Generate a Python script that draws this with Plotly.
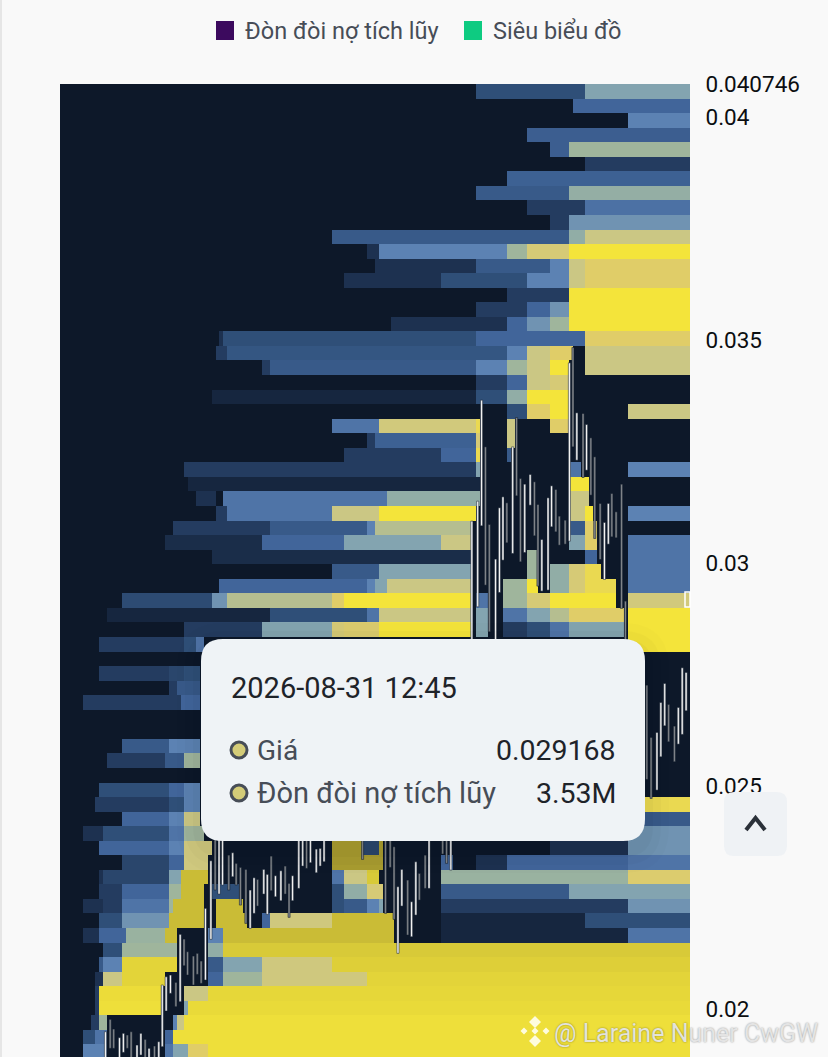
import plotly.graph_objs as go

WIDTH = 828
HEIGHT = 1057
N_BARS = 162

### Data
# Heatmap rows from the top of the chart down: (end bar, level) runs.
# Levels 0-10 run dark to bright yellow, 10-12 are the duller yellows of the low price zone
heat_rows = [
    [(107, 0), (135, 3), (162, 6)],
    [(132, 0), (162, 4)],
    [(146, 0), (162, 5)],
    [(120, 0), (162, 3.7)],
    [(126, 0), (131, 3.7), (162, 7)],
    [(135, 0), (162, 2)],
    [(115, 0), (162, 3.8)],
    [(107, 0), (131, 3.5), (162, 6.6)],
    [(120, 0), (135, 2), (162, 4.4)],
    [(126, 0), (131, 2), (162, 5.5)],
    [(70, 0), (131, 3.5), (135, 6.5), (162, 8)],
    [(79, 0), (82, 1.5), (115, 5), (120, 7), (131, 8.5), (162, 10)],
    [(81, 0), (107, 1.5), (126, 3.5), (131, 5), (135, 8), (162, 9)],
    [(73, 0), (98, 1.5), (120, 3), (131, 5), (135, 8), (162, 9)],
    [(115, 0), (131, 2), (162, 10)],
    [(107, 0), (120, 2), (126, 4), (131, 5.5), (162, 10)],
    [(85, 0), (115, 1.5), (120, 4), (126, 5.5), (131, 7), (162, 10)],
    [(41, 0), (42, 1.5), (107, 3), (135, 4), (162, 9)],
    [(40, 0), (43, 2), (115, 3.3), (120, 5), (126, 8), (132, 9), (135, 0), (162, 8)],
    [(52, 0), (54, 2), (107, 3.5), (115, 5), (120, 7), (126, 8), (131, 10), (135, 0), (162, 8)],
    [(107, 0), (115, 2), (120, 4), (126, 8), (131, 8.5), (162, 0)],
    [(39, 0), (107, 1), (115, 3), (120, 6.5), (131, 10), (162, 0)],
    [(115, 0), (120, 3), (126, 9), (131, 10), (146, 0), (162, 8)],
    [(70, 0), (82, 4.5), (107, 8.3), (108, 9.5), (115, 0), (117, 8), (126, 0), (131, 9), (162, 0)],
    [(79, 0), (81, 2), (107, 3.8), (108, 8.5), (115, 0), (117, 8), (162, 0)],
    [(73, 0), (98, 2), (107, 4), (108, 9.5), (115, 0), (116, 3.5), (162, 0)],
    [(32, 0), (107, 2), (108, 6), (131, 0), (134, 4.5), (146, 0), (162, 5)],
    [(33, 0), (108, 1), (131, 0), (136, 10), (162, 0)],
    [(35, 0), (40, 1.5), (42, 0), (84, 4.5), (108, 6.5), (131, 0), (136, 8), (162, 0)],
    [(40, 0), (43, 2), (70, 4.5), (82, 8), (107, 10), (131, 0), (135, 8), (137, 10), (146, 0), (162, 5)],
    [(29, 0), (54, 2), (79, 3.5), (81, 5), (106, 7.5), (131, 0), (135, 3.5), (138, 9), (162, 0)],
    [(27, 0), (52, 1.3), (73, 4), (98, 6), (106, 8), (131, 0), (135, 6), (138, 9), (146, 0), (162, 4.5)],
    [(39, 0), (106, 1.3), (120, 0), (123, 7), (135, 0), (138, 4), (146, 0), (162, 4.5)],
    [(70, 0), (82, 3.5), (106, 6), (120, 0), (123, 7), (126, 0), (131, 6.5), (135, 8.5), (139, 9.5), (146, 0), (162, 4.5)],
    [(41, 0), (79, 4), (81, 5), (84, 6), (106, 8), (114, 0), (120, 7), (123, 10), (126, 0), (131, 6.5), (135, 8.5), (143, 9.5), (146, 0), (162, 4.5)],
    [(16, 0), (39, 2.8), (43, 5.5), (70, 7.5), (73, 9), (106, 10), (107, 0), (110, 4.5), (114, 0), (120, 7), (126, 8.5), (143, 10), (146, 0), (162, 8.3)],
    [(12, 0), (54, 1), (79, 3), (82, 4.5), (106, 8), (107, 0), (110, 6), (114, 0), (120, 4.5), (126, 6), (131, 7.5), (145, 9), (146, 0), (162, 10)],
    [(32, 0), (52, 2), (70, 6), (73, 8.5), (82, 8.8), (106, 10), (107, 0), (110, 6), (114, 0), (120, 2), (126, 3), (131, 4.5), (145, 6), (146, 0), (162, 10)],
    [(10, 0), (32, 2), (35, 3), (37, 4.5), (146, 0), (162, 10)],
    [(162, 0)],
    [(10, 0), (28, 2), (32, 2.5), (36, 3), (162, 0)],
    [(28, 0), (30, 2), (36, 3.5), (162, 0)],
    [(6, 0), (31, 2), (36, 4), (162, 0)],
    [(162, 0)],
    [(162, 0)],
    [(16, 0), (28, 3.5), (36, 5), (162, 0)],
    [(12, 0), (27, 2), (32, 3.5), (36, 7), (162, 0)],
    [(162, 0)],
    [(10, 0), (28, 3), (32, 4), (36, 5), (162, 0)],
    [(9, 0), (28, 2), (32, 3), (36, 5), (146, 0), (162, 9.5)],
    [(16, 0), (28, 4), (32, 5), (36, 8), (146, 0), (162, 3.5)],
    [(6, 0), (11, 1.5), (28, 3), (32, 4.5), (37, 7), (146, 0), (162, 5.5)],
    [(10, 0), (28, 4), (32, 5), (39, 8.2), (70, 0), (78, 12), (82, 2.5), (83, 12), (126, 0), (146, 1.5), (162, 5.5)],
    [(16, 0), (28, 2.5), (32, 4), (38, 8.2), (70, 0), (83, 12), (98, 0), (101, 4), (107, 0), (115, 1.5), (146, 4), (162, 4.5)],
    [(10, 0), (11, 1.5), (28, 2.5), (31, 6), (38, 11.3), (70, 0), (73, 4.5), (79, 8), (82, 11), (98, 0), (146, 6.8), (162, 8.8)],
    [(10, 0), (16, 2), (28, 4), (31, 7), (37, 11.3), (39, 0), (46, 3), (70, 0), (73, 3), (79, 6.5), (83, 8.5), (98, 0), (131, 3.5), (162, 6)],
    [(6, 0), (11, 1.5), (16, 2), (28, 4.5), (29, 7), (37, 11.3), (40, 0), (47, 11.3), (70, 0), (73, 3), (79, 3.5), (82, 5), (83, 6), (98, 0), (146, 2), (162, 5.5)],
    [(10, 0), (16, 3), (28, 5.5), (37, 11.3), (40, 0), (48, 11.3), (52, 0), (54, 4), (70, 8.2), (86, 11.3), (98, 0), (135, 1), (162, 3)],
    [(6, 0), (10, 1.5), (17, 4), (27, 6.8), (30, 11.3), (38, 0), (42, 5), (86, 11.3), (98, 0), (146, 1), (162, 4.5)],
    [(11, 0), (16, 3), (30, 7), (38, 0), (42, 6.5), (162, 11)],
    [(10, 0), (11, 3.5), (16, 5), (30, 10.6), (38, 0), (42, 3.5), (52, 6), (70, 8.2), (162, 10.8)],
    [(9, 0), (11, 1.5), (16, 8), (27, 10.6), (38, 0), (42, 4), (52, 7), (79, 8.2), (162, 10.6)],
    [(9, 0), (10, 2), (26, 10.3), (32, 0), (38, 8), (162, 10.5)],
    [(9, 0), (10, 2), (26, 10.2), (32, 0), (33, 6), (162, 10.4)],
    [(8, 0), (10, 2), (12, 7), (29, 0), (30, 5), (32, 8), (162, 10.2)],
    [(6, 0), (9, 3), (12, 4.5), (27, 0), (29, 4), (162, 10.2)],
    [(6, 0), (12, 5), (27, 0), (29, 4.5), (33, 6), (38, 9), (162, 10.2)],
]

# Candles: bar position, open, close (open < close is an up candle)
candle_x = [
    11.7, 12.9, 13.8, 15.3, 16.3, 17.3, 18.3, 19.8, 20.8, 21.9, 22.9, 24.3, 25.4, 26.3, 27.3, 28.4, 29.8,
    30.9, 31.9, 32.8, 34.3, 35.3, 36.3, 37.4, 38.8, 39.9, 40.9, 41.8, 43.4, 44.4, 45.3, 46.4, 47.8, 48.9,
    49.9, 50.8, 52.4, 53.3, 54.3, 55.4, 56.8, 57.9, 58.9, 59.8, 61.4, 62.4, 63.4, 64.4, 65.9, 66.9, 67.9,
    77.8, 83.7, 84.9, 85.9, 86.9, 87.9, 89.4, 90.4, 91.5, 92.4, 93.9, 94.9, 98.4, 99.4, 100.5,
    105.9, 107.4, 108.4, 109.4, 110.4, 112, 113, 113.9, 114.9, 116.4, 117.4, 118.4, 119.5, 120.9, 122,
    122.9, 123.9, 125.5, 126.4, 127.5, 128.4, 129.9, 131, 131.9, 132.9, 134.5, 135.4, 136.5, 137.5,
    138.9, 140, 141, 141.9, 143, 144.4, 145.4,
    150.9, 152, 153.5, 154.5, 155.5, 156.5, 158, 159, 160, 161,
]
candle_open = [
    0.018856, 0.019768, 0.019551, 0.018856, 0.019028, 0.019417, 0.019491, 0.018856, 0.018968, 0.019319, 0.018856, 0.019170, 0.018856, 0.019155, 0.019955, 0.020351, 0.020597,
    0.020164, 0.021569, 0.021285, 0.021188, 0.021248, 0.021076, 0.020650, 0.021562, 0.024013, 0.022578, 0.022780, 0.023452, 0.022967, 0.023266, 0.023176, 0.023131, 0.021808,
    0.022145, 0.022907, 0.022578, 0.022122, 0.023430, 0.022518, 0.022429, 0.023206, 0.022817, 0.022429, 0.022705, 0.023206, 0.024013, 0.023281, 0.023056, 0.023206, 0.023303,
    0.024013, 0.024013, 0.024013, 0.023639, 0.021248, 0.022309, 0.022892, 0.021621, 0.022107, 0.023041, 0.023452, 0.022705, 0.024013, 0.024013, 0.023116,
    0.028199, 0.029021, 0.030837, 0.032608, 0.030867, 0.028199, 0.029342, 0.030067, 0.031353, 0.030217, 0.033266, 0.031898, 0.030239, 0.031300, 0.031824,
    0.031315, 0.029372, 0.029395, 0.030815, 0.031652, 0.031054, 0.030964, 0.030493, 0.034836, 0.032309, 0.033356, 0.032085, 0.032810, 0.032384,
    0.031338, 0.029634, 0.030426, 0.031562, 0.031151, 0.031771, 0.029148,
    0.027264, 0.026091, 0.024910, 0.025657, 0.026352, 0.026831, 0.026345, 0.025941, 0.026158, 0.026689,
]
candle_close = [
    0.019491, 0.019118, 0.019118, 0.019357, 0.019454, 0.019118, 0.018856, 0.019192, 0.019454, 0.018856, 0.019118, 0.018856, 0.019267, 0.020538, 0.020724, 0.020762, 0.020052,
    0.021674, 0.020971, 0.020762, 0.020538, 0.020777, 0.020575, 0.022257, 0.023325, 0.022668, 0.024013, 0.024013, 0.022668, 0.023505, 0.022780, 0.022331, 0.021920, 0.022668,
    0.022944, 0.022309, 0.023131, 0.023019, 0.022653, 0.022989, 0.023101, 0.022578, 0.022055, 0.022989, 0.024013, 0.024013, 0.023153, 0.024013, 0.023587, 0.023602, 0.024013,
    0.023355, 0.022145, 0.023176, 0.022010, 0.022743, 0.023131, 0.021659, 0.022406, 0.023303, 0.022443, 0.022705, 0.024013, 0.023475, 0.023266, 0.024013,
    0.030942, 0.031390, 0.033655, 0.029507, 0.028460, 0.030090, 0.031241, 0.031487, 0.030456, 0.032608, 0.031510, 0.030030, 0.031771, 0.031988, 0.030613,
    0.029484, 0.030530, 0.031465, 0.031734, 0.030702, 0.030403, 0.030426, 0.034492, 0.032608, 0.033371, 0.031921, 0.033109, 0.031525, 0.030553,
    0.030082, 0.030912, 0.031338, 0.030590, 0.030568, 0.028984, 0.028199,
    0.025149, 0.024723, 0.026203, 0.026875, 0.027301, 0.025993, 0.025545, 0.026763, 0.027653, 0.027548,
]

tick_vals = [0.040746, 0.04, 0.035, 0.03, 0.025, 0.02]
tick_text = ['0.040746', '0.04', '0.035', '0.03', '0.025', '0.02']

level_colors = ['#0d1829', '#16263f', '#243c60', '#2f4f78', '#41659a', '#5c82b3', '#83a4b0',
                '#9fb59c', '#cbc784', '#e0cd68', '#f4e43a', '#d8ca38', '#a89c30']

PRICE_TOP = 0.040746
PRICE_BOTTOM = 0.018924
ROW_STEP = 0.0003265

TEXT_FONT = 'Roboto'


def px(x):
    return x / WIDTH


def py(y):
    return 1 - y / HEIGHT


def rounded_rect(x0, y0, x1, y1, r):
    # SVG path in paper coordinates, for the tooltip and the scroll button
    return (f'M {px(x0 + r)} {py(y0)} L {px(x1 - r)} {py(y0)} Q {px(x1)} {py(y0)} {px(x1)} {py(y0 + r)} '
            f'L {px(x1)} {py(y1 - r)} Q {px(x1)} {py(y1)} {px(x1 - r)} {py(y1)} L {px(x0 + r)} {py(y1)} '
            f'Q {px(x0)} {py(y1)} {px(x0)} {py(y1 - r)} L {px(x0)} {py(y0 + r)} Q {px(x0)} {py(y0)} {px(x0 + r)} {py(y0)} Z')


def label(x, y, text, size, color, anchor='left'):
    return dict(xref='paper', yref='paper', x=px(x), y=py(y), text=text, showarrow=False, xanchor=anchor,
                yanchor='middle', font=dict(family=TEXT_FONT, size=size, color=color))


# Expand the runs to a full grid, the heatmap wants the lowest price first
z = []
for row in reversed(heat_rows):
    cells = []
    for end, level in row:
        cells += [level] * (end - len(cells))
    z.append(cells)

colorscale = [[i / (len(level_colors) - 1), c] for i, c in enumerate(level_colors)]

fig = go.Figure()
fig.add_trace(go.Heatmap(
    z=z, x0=0.5, dx=1, y0=PRICE_TOP - ROW_STEP * (len(heat_rows) - 0.5), dy=ROW_STEP,
    zmin=0, zmax=len(level_colors) - 1, colorscale=colorscale, showscale=False, hoverinfo='skip',
))

# Candles as thin floating bars
for up, color in [(True, '#f2f2f2'), (False, '#7f8388')]:
    idx = [i for i in range(len(candle_x)) if (candle_close[i] > candle_open[i]) == up]
    fig.add_trace(go.Bar(
        x=[candle_x[i] for i in idx],
        base=[min(candle_open[i], candle_close[i]) for i in idx],
        y=[abs(candle_close[i] - candle_open[i]) for i in idx],
        width=0.55, marker=dict(color=color, line=dict(color='#0d1829', width=0.5)),
        showlegend=False, hoverinfo='skip',
    ))

shapes = []
# Legend squares
for x0, color in [(216, '#3c0a5e'), (464, '#0ecb81')]:
    shapes.append(dict(type='rect', xref='paper', yref='paper', x0=px(x0), x1=px(x0 + 18), y0=py(40), y1=py(21),
                       fillcolor=color, line=dict(width=0)))
# Soft tooltip shadow
for grow, alpha in [(24, 0.012), (16, 0.018), (8, 0.025)]:
    shapes.append(dict(type='path', xref='paper', yref='paper', line=dict(width=0),
                       path=rounded_rect(201 - grow, 639 - grow + 8, 645 + grow, 841 + grow + 8, 22 + grow),
                       fillcolor=f'rgba(0,0,0,{alpha})'))
shapes.append(dict(type='path', xref='paper', yref='paper', line=dict(width=0), fillcolor='#eff3f6',
                   path=rounded_rect(201, 639, 645, 841, 22)))
# Tooltip dots
for y in [750, 793]:
    shapes.append(dict(type='circle', xref='paper', yref='paper', x0=px(231), x1=px(247), y0=py(y - 8), y1=py(y + 8),
                       fillcolor='#d4cc78', line=dict(color='#474d57', width=3)))
# Scroll to top button
shapes.append(dict(type='path', xref='paper', yref='paper', line=dict(width=0), fillcolor='#eff2f5',
                   path=rounded_rect(724, 792, 787, 856, 10)))
shapes.append(dict(type='path', xref='paper', yref='paper', line=dict(color='#2b3139', width=4),
                   path=f'M {px(746)} {py(830)} L {px(755.5)} {py(818)} L {px(765)} {py(830)}'))
# Price marker on the right edge and the strip on the page edge
shapes.append(dict(type='rect', xref='paper', yref='paper', x0=px(685), x1=px(690), y0=py(592), y1=py(607),
                   line=dict(color='white', width=1.5)))
shapes.append(dict(type='rect', xref='paper', yref='paper', x0=0, x1=px(2), y0=0, y1=1,
                   fillcolor='#e6e6e6', line=dict(width=0)))
# Watermark logo, five small diamonds
for cx, cy, r in [(535, 1022, 6), (535, 1041, 6), (524, 1031, 3.5), (546, 1031, 3.5), (535, 1031, 3.5)]:
    shapes.append(dict(type='path', xref='paper', yref='paper', line=dict(width=0), fillcolor='rgba(255,255,240,0.9)',
                       path=f'M {px(cx - r)} {py(cy)} L {px(cx)} {py(cy - r)} L {px(cx + r)} {py(cy)} L {px(cx)} {py(cy + r)} Z'))

annotations = [
    label(243, 31, 'Đòn đòi nợ tích lũy', 23.5, '#474d57'),
    label(491, 31, 'Siêu biểu đồ', 23.5, '#474d57'),
    label(229, 688, '2026-08-31 12:45', 29, '#1e2329'),
    label(255, 750, 'Giá', 28, '#474d57'),
    label(255, 793, 'Đòn đòi nợ tích lũy', 29, '#474d57'),
    label(618, 750, '0.029168', 28.5, '#1e2329', 'right'),
    label(618, 793, '3.53M', 28.5, '#1e2329', 'right'),
]
watermark = label(552, 1033, '@ Laraine Nuner CwGW', 25, 'rgba(232,232,232,0.95)')
watermark['font']['shadow'] = '0 0 2px rgba(0,0,0,0.45)'
annotations.append(watermark)

fig.update_layout(
    width=WIDTH,
    height=HEIGHT,
    margin=dict(l=0, r=0, t=0, b=0, autoexpand=False),
    paper_bgcolor='#f9f9f9',
    plot_bgcolor='#0d1829',
    barmode='overlay',
    showlegend=False,
    font=dict(family=TEXT_FONT),
    xaxis=dict(domain=[px(60), px(690)], range=[0, N_BARS], visible=False, fixedrange=True),
    yaxis=dict(domain=[0, py(84)], range=[PRICE_BOTTOM, PRICE_TOP], side='right', tickvals=tick_vals, ticktext=tick_text,
               showgrid=False, zeroline=False, showline=False, ticks='outside', ticklen=10, tickcolor='rgba(0,0,0,0)',
               tickfont=dict(family=TEXT_FONT, size=22.5, color='#0b0e11'), fixedrange=True),
    shapes=shapes,
    annotations=annotations,
)

# The page's default body margin would push the figure 8px in
fig.write_html("out.html", config={'displayModeBar': False}, post_script="document.body.style.margin='0';")
